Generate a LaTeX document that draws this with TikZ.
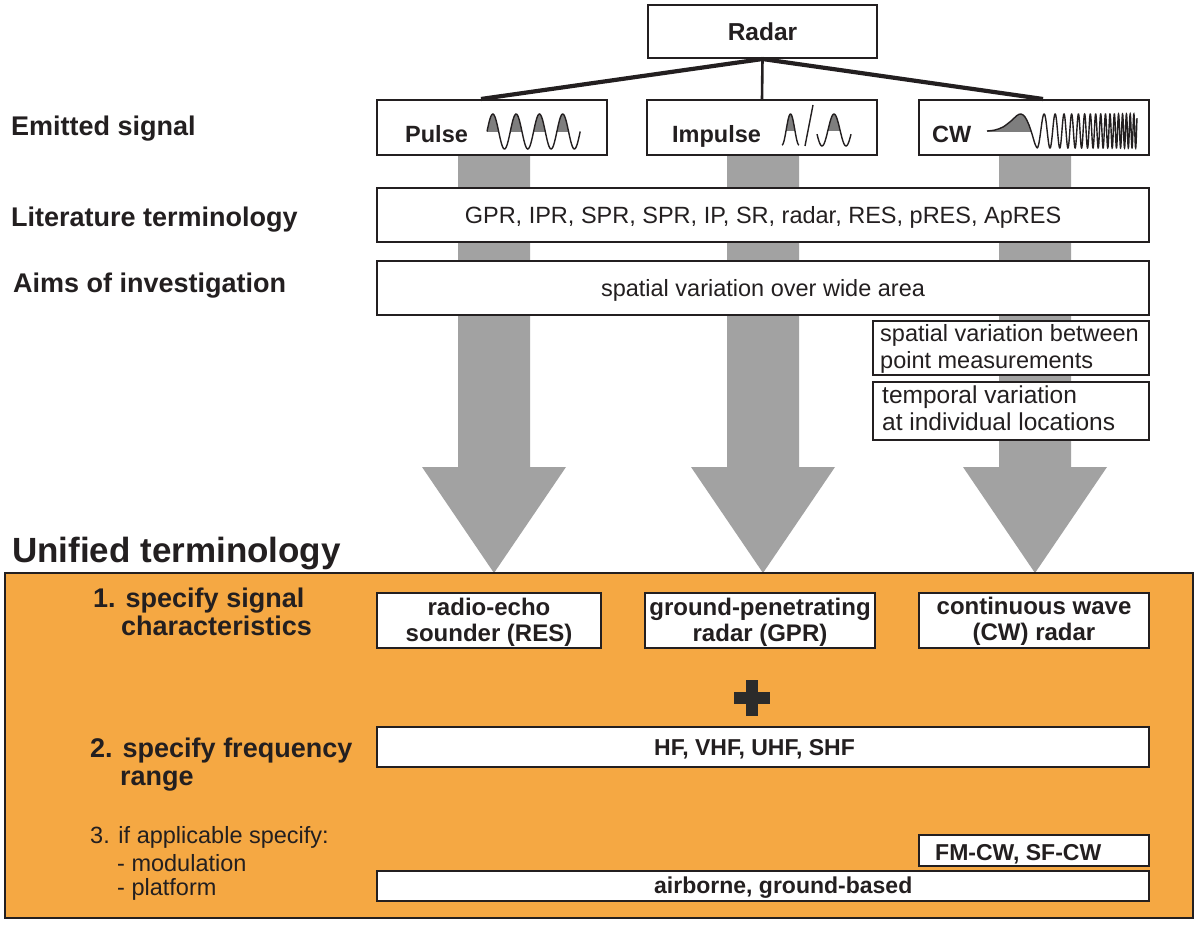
\documentclass[tikz,border=0pt]{standalone}
\usepackage{fontspec}
\setmainfont{Liberation Sans}
\definecolor{ink}{HTML}{231F20}
\definecolor{agray}{HTML}{A2A2A2}
\definecolor{wgray}{HTML}{7E7E7E}
\definecolor{orng}{HTML}{F5A843}
\definecolor{plusc}{HTML}{2B2B2B}
\newcommand\grayarrow[1]{\fill[agray] (#1-36,155) -- (#1+36,155) -- (#1+36,467) -- (#1+72,467) -- (#1,573) -- (#1-72,467) -- (#1-36,467) -- cycle;}
\newcommand\fsz[1]{\fontsize{#1}{#1}\selectfont}
\begin{document}
\begin{tikzpicture}[x=1pt,y=-1pt,
 box/.style={draw=ink,line width=2pt,fill=white,inner sep=0pt},
 bt/.style={anchor=base west,inner sep=0pt,text=ink},
 ct/.style={anchor=base,inner sep=0pt,text=ink},
 hd/.style={bt,font=\bfseries\fsz{27}},
 rg/.style={font=\fsz{23.5}},
 bd/.style={font=\bfseries\fsz{24}},
 bs/.style={font=\bfseries\fsz{23}},
 conn/.style={draw=ink,line width=4.2pt},
 wave/.style={draw=ink,line width=1.4pt},
]
\useasboundingbox (0,0) rectangle (1200,925);
\fill[white] (0,0) rectangle (1200,925);

% big grey arrows
\grayarrow{494}
\grayarrow{763}
\grayarrow{1035}

% top boxes
\node[box,minimum width=229pt,minimum height=53pt] (radar) at (762.5,31.5) {};
\node[ct,font=\bfseries\fsz{24.5}] (radarT) at (762.5,40.5) {Radar};

\node[box,minimum width=230pt,minimum height=55pt] (pulse) at (492,127.5) {};
\node[box,minimum width=230pt,minimum height=55pt] (impulse) at (762,127.5) {};
\node[box,minimum width=230pt,minimum height=55pt] (cw) at (1034,127.5) {};

\draw[conn] (radar.south) -- ([xshift=-11pt]pulse.north);
\draw[conn,line width=2.6pt] (radar.south) -- (impulse.north);
\draw[conn] (radar.south) -- ([xshift=9pt]cw.north);

\node[bt,font=\bfseries\fsz{23.5}] (pulseT) at (405,143) {Pulse};
\node[bt,font=\bfseries\fsz{23.5}] (impulseT) at (672,143) {Impulse};
\node[bt,font=\bfseries\fsz{23.5}] (cwT) at (932,143) {CW};

% pulse waveform
\begin{scope}
\clip (480,100) rectangle (590,132);
\fill[wgray] plot[domain=0:93.2,samples=120] ({487+\x},{131.5-17.5*sin(\x/23.3*360)}) -- (580.2,150) -- (487,150) -- cycle;
\end{scope}
\draw[wave] plot[domain=0:93.2,samples=120] ({487+\x},{131.5-17.5*sin(\x/23.3*360)});

% impulse waveform
\begin{scope}
\clip (775,100) rectangle (860,131);
\fill[wgray] plot[domain=0:17,samples=40] ({782+\x},{145-15.5*(1-cos(\x/17*360))}) -- cycle;
\fill[wgray] plot[domain=0:24,samples=40] ({822+\x},{130+16*cos(\x/24*360)}) -- cycle;
\end{scope}
\draw[wave] plot[domain=0:17,samples=40] ({782+\x},{145-15.5*(1-cos(\x/17*360))});
\draw[wave] (805,146) -- (813,105);
\draw[wave] plot[domain=-5:29,samples=60] ({822+\x},{130+16*cos(\x/24*360)});

% CW waveform
\begin{scope}
\clip (980,100) rectangle (1032,131.5);
\fill[wgray] plot[smooth,tension=0.55] coordinates {(987,131) (995,130) (1003,127) (1011,121) (1017,115.5) (1021,114) (1025,117) (1029,125) (1032,134) (1035,144) (1037,148)} -- (987,150) -- cycle;
\end{scope}
\draw[wave] plot[smooth,tension=0.55] coordinates {(987,131) (995,130) (1003,127) (1011,121) (1017,115.5) (1021,114) (1025,117) (1029,125) (1032,134) (1035,144) (1037,148)};
\draw[wave] plot[domain=0:100,samples=900] ({1037+\x},{131+17*cos(360*(\x/16+0.001116*\x*\x))});

% literature / aims
\node[box,minimum width=772pt,minimum height=54pt] (lit) at (763,215) {};
\node[ct,rg] (litT) at (763,224) {GPR, IPR, SPR, SPR, IP, SR, radar, RES, pRES, ApRES};
\node[box,minimum width=772pt,minimum height=54pt] (aims) at (763,288) {};
\node[ct,rg] (aimsT) at (763,297) {spatial variation over wide area};
\node[box,minimum width=276pt,minimum height=54pt] (sv) at (1011,348) {};
\node[bt,rg] (svA) at (880,341.5) {spatial variation between};
\node[bt,rg] (svB) at (880,369) {point measurements};
\node[box,minimum width=276pt,minimum height=58pt] (tv) at (1011,411) {};
\node[bt,font=\fsz{24.5}] (tvA) at (882,403) {temporal variation};
\node[bt,font=\fsz{24.5}] (tvB) at (882,430) {at individual locations};

% left labels
\node[hd] (lab1) at (11,136) {Emitted signal};
\node[hd] (lab2) at (11,227) {Literature terminology};
\node[hd] (lab3) at (13,293) {Aims of investigation};

% unified terminology
\node[bt,font=\bfseries\fsz{35}] (unifiedT) at (12,562) {Unified terminology};
\node[draw=ink,line width=1.5pt,fill=orng,minimum width=1188pt,minimum height=345pt,inner sep=0pt] (unified) at (599,745.5) {};

\node[hd] (s1a) at (93,607) {1. specify signal};
\node[hd] (s1b) at (121,635) {characteristics};
\node[hd] (s2a) at (90,757) {2. specify frequency};
\node[hd] (s2b) at (120,785) {range};
\node[bt,rg] (s3a) at (90,843) {3. if applicable specify:};
\node[bt,rg] (s3b) at (117,871) {- modulation};
\node[bt,rg] (s3c) at (117,895) {- platform};

\node[box,minimum width=224pt,minimum height=55pt] (res) at (489,620.5) {};
\node[ct,bd] (resA) at (489,615) {radio-echo};
\node[ct,bd] (resB) at (489,641) {sounder (RES)};
\node[box,minimum width=230pt,minimum height=55pt] (gpr) at (760,620.5) {};
\node[ct,bd] (gprA) at (760,615) {ground-penetrating};
\node[ct,bd] (gprB) at (760,641) {radar (GPR)};
\node[box,minimum width=230pt,minimum height=55pt] (cwr) at (1034,620.5) {};
\node[ct,bd] (cwrA) at (1034,614) {continuous wave};
\node[ct,bd] (cwrB) at (1034,640) {(CW) radar};

% plus sign
\fill[plusc] (734,692) rectangle (770,704);
\fill[plusc] (746,680) rectangle (758,716);

\node[box,minimum width=772pt,minimum height=40pt] (hf) at (763,747) {};
\node[bt,bs] (hfT) at (654,755) {HF, VHF, UHF, SHF};
\node[box,minimum width=230pt,minimum height=31pt] (fmcw) at (1034,850.5) {};
\node[bt,bs] (fmcwT) at (935,860) {FM-CW, SF-CW};
\node[box,minimum width=772pt,minimum height=30pt] (air) at (763,886) {};
\node[bt,bs] (airT) at (654,893) {airborne, ground-based};
\end{tikzpicture}
\end{document}
